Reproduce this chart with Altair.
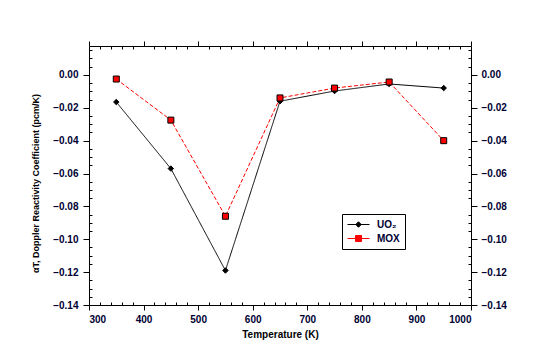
import altair as alt
import pandas as pd

# ---- data ----
temps = [350, 450, 550, 650, 750, 850, 950]
uo2 = [-0.0165, -0.057, -0.119, -0.016, -0.0098, -0.0055, -0.008]
mox = [-0.0025, -0.0275, -0.086, -0.014, -0.008, -0.0043, -0.040]
series = ["UO\u2082", "MOX"]

x_major = [300, 400, 500, 600, 700, 800, 900, 1000]
x_minor = [v for v in range(300, 1001, 20) if v % 100 != 0]
y_major = [0.0, -0.02, -0.04, -0.06, -0.08, -0.10, -0.12, -0.14]
y_minor = [round(-0.14 + 0.005 * i, 3) for i in range(32) if i % 4 != 0]

rows = []
for t, a, b in zip(temps, uo2, mox):
    rows.append({"T": t, "v": a, "series": series[0]})
    rows.append({"T": t, "v": b, "series": series[1]})
df = pd.DataFrame(rows)

W, H = 382, 259
XDOM = [300, 1000]
YDOM = [-0.14, 0.0176]
FONT = "Liberation Sans"
LBL = "#000033"


def X(axis):
    return alt.X("T:Q", scale=alt.Scale(domain=XDOM, nice=False, zero=False), axis=axis)


def Y(axis):
    return alt.Y("v:Q", scale=alt.Scale(domain=YDOM, nice=False, zero=False), axis=axis)


base = alt.Chart(df)

lines = base.mark_line(strokeWidth=1).encode(
    x=X(alt.Axis(orient="bottom", values=x_major, format="d", tickSize=5, labelPadding=4,
                 title="Temperature (K)", titlePadding=5, titleFontSize=10,
                 labelFontSize=10, labelFontWeight="bold", titleFontWeight="bold")),
    y=Y(alt.Axis(orient="left", values=y_major, format=".2f", tickSize=6, labelPadding=5,
                 title="\u03b1T, Doppler Reactivity Coefficient (pcm/K)", titlePadding=12,
                 titleFontSize=9, titleFontWeight="bold", titleY=137,
                 labelFontSize=10, labelFontWeight="bold")),
    color=alt.Color("series:N", scale=alt.Scale(domain=series, range=["black", "red"]), legend=None),
    strokeDash=alt.StrokeDash("series:N", scale=alt.Scale(domain=series, range=[[1, 0], [4, 2]]), legend=None),
)

points = base.mark_point(filled=True, stroke="black", strokeWidth=1, opacity=1).encode(
    x=X(None),
    y=Y(None),
    shape=alt.Shape("series:N", scale=alt.Scale(domain=series, range=["diamond", "square"]), legend=None),
    fill=alt.Fill("series:N", scale=alt.Scale(domain=series, range=["black", "red"]), legend=None),
    size=alt.Size("series:N", scale=alt.Scale(domain=series, range=[30, 36]), legend=None),
)

frame = base.mark_point(opacity=0).encode(
    x=X(alt.Axis(orient="top", values=x_major, labels=False, tickSize=5, title=None)),
    y=Y(alt.Axis(orient="right", values=y_major, format=".2f", tickSize=6, labelPadding=4,
                 labelFontSize=10, labelFontWeight="bold", title=None)),
)

minor_a = base.mark_point(opacity=0).encode(
    x=X(alt.Axis(orient="top", offset=-H, values=x_minor, labels=False, domain=False,
                 tickSize=3, title=None)),
    y=Y(alt.Axis(orient="right", offset=-W, values=y_minor, labels=False, domain=False,
                 tickSize=3, title=None)),
)

minor_b = base.mark_point(opacity=0).encode(
    x=X(alt.Axis(orient="bottom", offset=-H, values=x_minor, labels=False, domain=False,
                 tickSize=3, title=None)),
    y=Y(alt.Axis(orient="left", offset=-W, values=y_minor, labels=False, domain=False,
                 tickSize=3, title=None)),
)

leg_paths = [
    "M-1,0L3.4,0M1.2,-0.55L1.75,0L1.2,0.55L0.65,0Z",
    "M-1,0L3.4,0M0.6,-0.6L1.8,-0.6L1.8,0.6L0.6,0.6Z",
]
legend = alt.Legend(orient="none", legendX=253, legendY=168, title=None,
                    strokeColor="black", fillColor="white", padding=5, rowPadding=3,
                    symbolSize=100, symbolStrokeWidth=1, symbolOpacity=1, labelOffset=19,
                    labelFont=FONT, labelFontSize=10, labelFontWeight="bold", labelColor=LBL)
leg = base.mark_point(filled=True, size=0, opacity=1).encode(
    x=X(None),
    y=Y(None),
    shape=alt.Shape("series:N", scale=alt.Scale(domain=series, range=leg_paths), legend=legend),
    fill=alt.Fill("series:N", scale=alt.Scale(domain=series, range=["black", "red"]), legend=legend),
    stroke=alt.Stroke("series:N", scale=alt.Scale(domain=series, range=["black", "red"]), legend=legend),
)

chart = alt.layer(lines, points, frame, minor_a, minor_b, leg).resolve_scale(
    x="independent", y="independent", shape="independent", fill="independent",
    stroke="independent", color="independent", strokeDash="independent", size="independent",
).properties(
    width=W, height=H, autosize="none",
    padding={"left": 81, "top": 38, "right": 60, "bottom": 45},
).configure(font=FONT).configure_axis(
    grid=False, domainColor="black", tickColor="black", labelColor=LBL, titleColor="black",
    labelFont=FONT, titleFont=FONT, domainWidth=1, tickWidth=1,
).configure_view(stroke="transparent")

chart.save("out.html", embed_options={"renderer": "svg", "actions": False})
